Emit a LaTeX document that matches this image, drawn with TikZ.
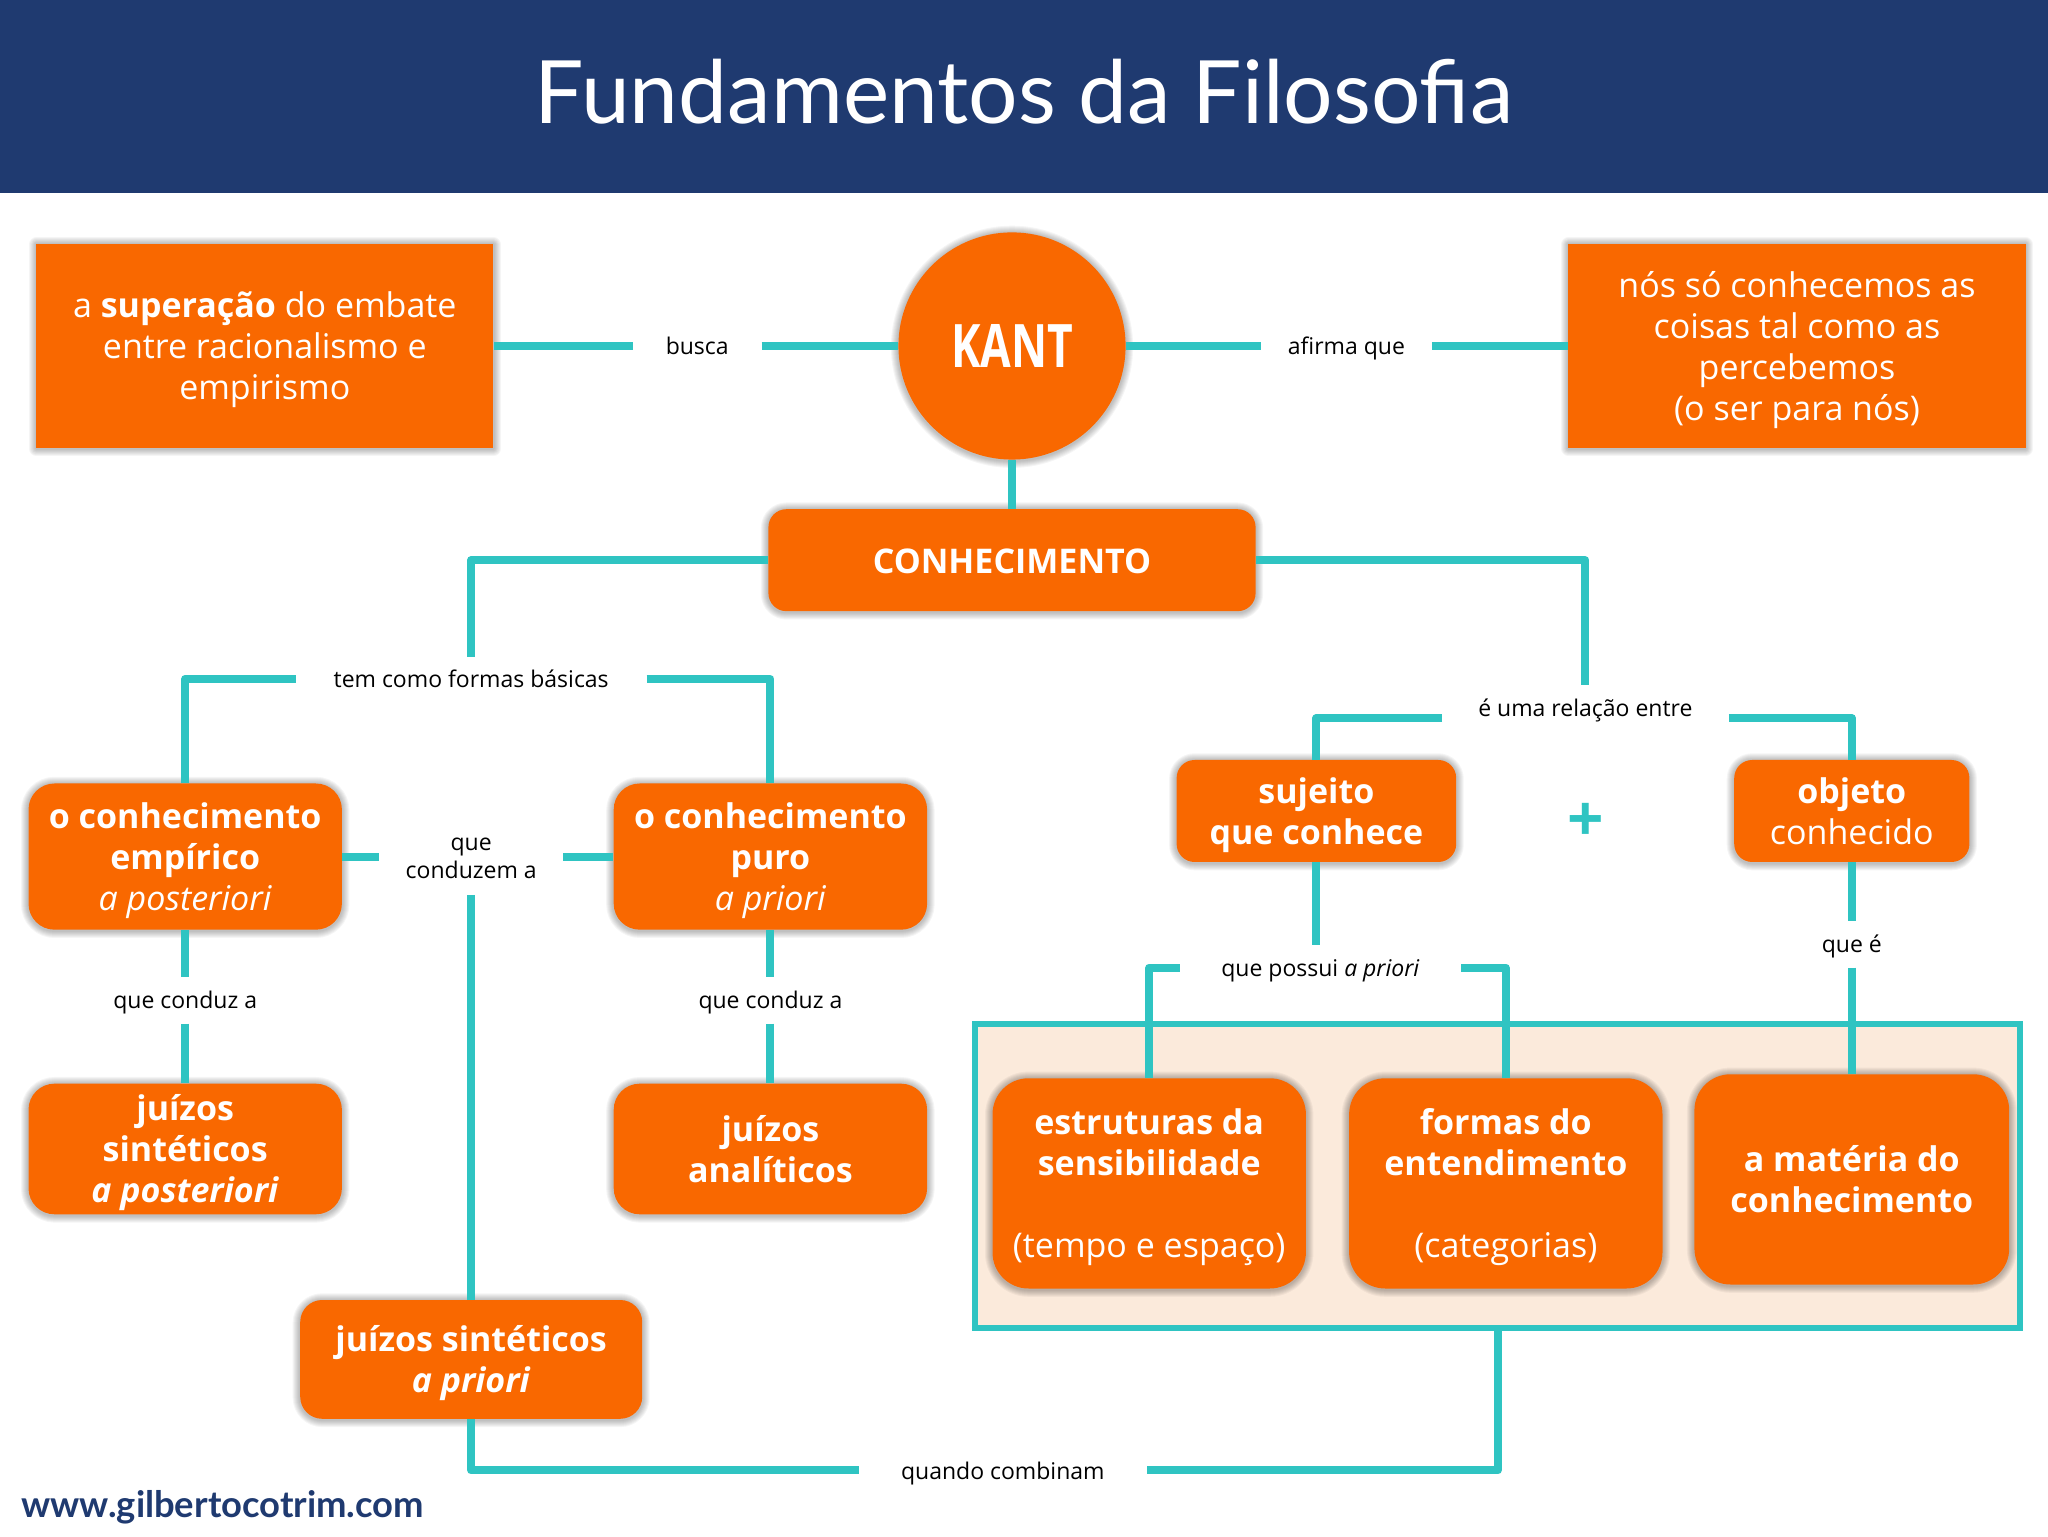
\documentclass[tikz,border=0pt]{standalone}
\usepackage{fontspec}
\setmainfont{Open Sans}
\newfontfamily\titlefont{Lato}
\newfontfamily\kantfont[FakeStretch=0.74]{Open Sans}
\usetikzlibrary{positioning,backgrounds}
\definecolor{laranja}{RGB}{249,104,0}
\definecolor{turquesa}{RGB}{47,196,194}
\definecolor{marinho}{RGB}{31,58,112}
\definecolor{creme}{RGB}{251,234,219}
\newcommand{\cima}{\rule{0pt}{17.5pt}}

\begin{document}
\begin{tikzpicture}[on grid, line join=round,
    halo/.style={preaction={draw=black, draw opacity=.04, line width=#1, transform canvas={yshift=-.4pt}}},
    box/.style={fill=laranja, text=white, align=center, inner sep=0pt,
        font=\fontsize{17}{20.5}\selectfont,
        halo=7.5pt, halo=6.5pt, halo=5.5pt, halo=4.5pt, halo=3.5pt, halo=2.5pt, halo=1.5pt},
    sbox/.style={box, execute at end node=\rule[-4.5pt]{0pt}{4.5pt}},
    rbox/.style={sbox, rounded corners=13pt},
    lbl/.style={inner sep=0pt, text height=11pt, text depth=2.4pt, font=\fontsize{11.5}{13.8}\selectfont},
    link/.style={draw=turquesa, line width=4pt},
    hv/.style={to path={-| (\tikztotarget)}},
    vh/.style={to path={|- (\tikztotarget)}}]
    \useasboundingbox (0,0) rectangle (1024pt,768pt);
    \fill[marinho] (0,671.3pt) rectangle (1024pt,768pt);
    \node[text=white, font=\titlefont\fontsize{43.7}{50}\selectfont] (titulo) at (512pt,722pt) {Fundamentos da Filosofia};
    \node[anchor=west, inner sep=0pt, text=marinho, font=\titlefont\fontsize{18.2}{20}\selectfont\bfseries] (site) at (10.4pt,14.5pt) {www.gilbertocotrim.com};

    % topo
    \node[box, circle, minimum size=113.6pt, font=\kantfont\bfseries\fontsize{30}{36}\selectfont] (kant) at (506pt,595pt) {KANT};
    \node[sbox, minimum width=228.6pt, minimum height=101.9pt] (sup) [left=373.6pt of kant]
        {\cima a \textbf{superação} do embate\\entre racionalismo e\\empirismo};
    \node[sbox, minimum width=228.6pt, minimum height=101.9pt] (nos) [right=392.5pt of kant]
        {\cima nós só conhecemos as\\coisas tal como as\\percebemos\\(o ser para nós)};
    \node[lbl, minimum width=64pt, minimum height=20pt] (busca) [left=157.4pt of kant] {busca};
    \node[lbl, minimum width=85pt, minimum height=20pt] (afirma) [right=167.2pt of kant] {afirma que};
    \node[rbox, rounded corners=9pt, minimum width=243.6pt, minimum height=51pt, font=\fontsize{17}{20.5}\selectfont\bfseries] (con) [below=107.1pt of kant] {\cima CONHECIMENTO};

    % lado esquerdo
    \node[lbl, minimum width=175pt, minimum height=22pt] (tem) [below left=59.4pt and 270.4pt of con] {tem como formas básicas};
    \node[rbox, minimum width=156.7pt, minimum height=73.1pt] (emp) [below left=88.8pt and 143pt of tem]
        {\cima\textbf{o conhecimento}\\\textbf{empírico}\\\textit{a posteriori}};
    \node[rbox, minimum width=156.7pt, minimum height=73.1pt] (puro) [right=292.6pt of emp]
        {\cima\textbf{o conhecimento}\\\textbf{puro}\\\textit{a priori}};
    \node[inner sep=0pt, align=center, font=\fontsize{11.5}{13.8}\selectfont, minimum width=91.4pt, minimum height=38pt] (conduz) [right=143pt of emp] {\rule{0pt}{8pt}que\\conduzem a};
    \node[lbl, minimum width=80pt, minimum height=23pt] (qca) [below=71.8pt of emp] {que conduz a};
    \node[lbl, minimum width=80pt, minimum height=23pt] (qcb) [below=71.8pt of puro] {que conduz a};
    \node[rbox, minimum width=156.7pt, minimum height=65.3pt] (sinpos) [below=74.4pt of qca]
        {\cima\textbf{juízos}\\\textbf{sintéticos}\\\textbf{\textit{a posteriori}}};
    \node[rbox, minimum width=156.7pt, minimum height=65.3pt] (ana) [below=74.4pt of qcb]
        {\cima\textbf{juízos}\\\textbf{analíticos}};
    \node[rbox, rounded corners=11pt, minimum width=171pt, minimum height=59.4pt] (sinpri) [below=251.4pt of conduz]
        {\cima\textbf{juízos sintéticos}\\\textbf{\textit{a priori}}};

    % lado direito
    \node[lbl, minimum width=143pt, minimum height=22pt] (rel) [below right=73.8pt and 286.7pt of con] {é uma relação entre};
    \node[rbox, rounded corners=9pt, minimum width=139.8pt, minimum height=51pt] (suj) [below left=51.6pt and 134.5pt of rel]
        {\cima\textbf{sujeito}\\\textbf{que conhece}};
    \node[rbox, rounded corners=9pt, minimum width=117.6pt, minimum height=51pt] (obj) [below right=51.6pt and 133.2pt of rel]
        {\cima\textbf{objeto}\\conhecido};
    \node[inner sep=0pt, text=turquesa, font=\fontsize{32}{32}\selectfont\bfseries] (mais) [below=57.5pt of rel] {+};
    \node[lbl, minimum width=140.4pt, minimum height=22pt] (possui) [below right=78.4pt and 2pt of suj] {que possui \textit{a priori}};
    \node[lbl, minimum width=50pt, minimum height=23pt] (quee) [below=66.6pt of obj] {que é};
    \node[rbox, rounded corners=18pt, minimum width=156.7pt, minimum height=105.1pt] (est) [below left=107.8pt and 85.6pt of possui]
        {\cima\textbf{estruturas da}\\\textbf{sensibilidade}\\\mbox{}\\(tempo e espaço)};
    \node[rbox, rounded corners=18pt, minimum width=156.7pt, minimum height=105.1pt] (for) [right=178.3pt of est]
        {\cima\textbf{formas do}\\\textbf{entendimento}\\\mbox{}\\(categorias)};
    \node[rbox, rounded corners=18pt, minimum width=157.4pt, minimum height=105.1pt] (mat) [below=117.6pt of quee]
        {\cima\textbf{a matéria do}\\\textbf{conhecimento}};
    \begin{scope}[on background layer]
        \node[draw=turquesa, fill=creme, line width=3pt, minimum width=522.4pt, minimum height=152.2pt] (painel) [above left=1.6pt and 177pt of mat] {};
    \end{scope}
    \node[lbl, minimum width=143.7pt, minimum height=20pt] (quando) [below right=55.5pt and 265.8pt of sinpri] {quando combinam};

    \path[link]
        (sup) edge (busca)
        (busca) edge (kant)
        (kant) edge (afirma)
        (afirma) edge (nos)
        (kant) edge (con)
        (con.west) edge[hv] (tem.north)
        (tem.west) edge[hv] (emp.north)
        (tem.east) edge[hv] (puro.north)
        (emp) edge (conduz)
        (conduz) edge (puro)
        (conduz.south) edge (sinpri.north)
        (emp) edge (qca)
        (qca) edge (sinpos)
        (puro) edge (qcb)
        (qcb) edge (ana)
        (con.east) edge[hv] (rel.north)
        ([yshift=-5.2pt]rel.west) edge[hv] (suj.north)
        ([yshift=-5.2pt]rel.east) edge[hv] (obj.north)
        (suj.south) edge (suj.south |- possui.north)
        (possui.west) edge[hv] (est.north)
        (possui.east) edge[hv] (for.north)
        (obj) edge (quee)
        (quee) edge (mat)
        (painel.south) edge[vh] (quando.east)
        (sinpri.south) edge[vh] (quando.west);
\end{tikzpicture}
\end{document}
